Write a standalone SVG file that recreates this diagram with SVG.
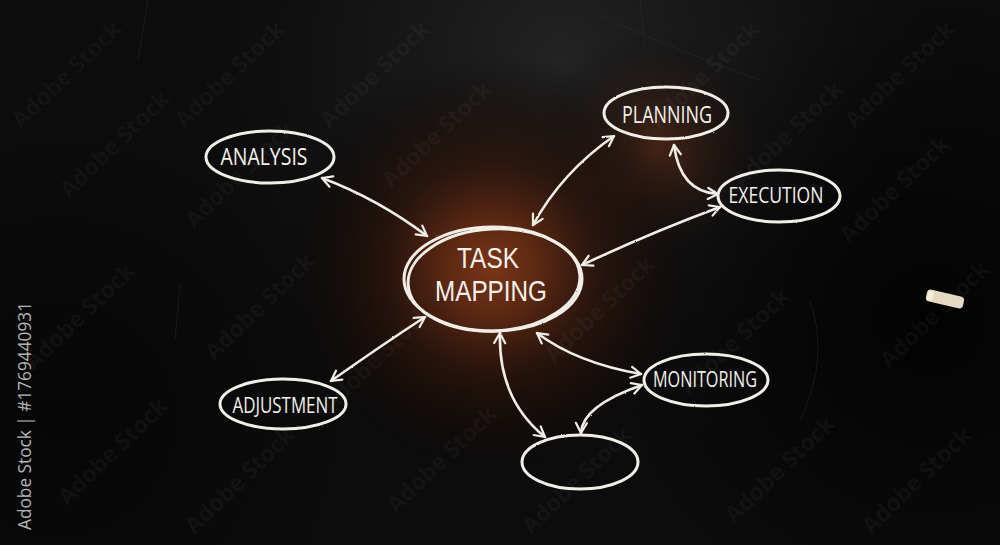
<svg xmlns="http://www.w3.org/2000/svg" width="1000" height="545" viewBox="0 0 1000 545">
  <defs>
    <radialGradient id="haze" cx="560" cy="60" r="420" gradientUnits="userSpaceOnUse">
      <stop offset="0" stop-color="#232323" stop-opacity="1"/>
      <stop offset="0.5" stop-color="#171717" stop-opacity="0.7"/>
      <stop offset="1" stop-color="#0b0b0b" stop-opacity="0"/>
    </radialGradient>
    <radialGradient id="glow" cx="492" cy="268" r="215" gradientUnits="userSpaceOnUse">
      <stop offset="0" stop-color="#7a3518"/>
      <stop offset="0.22" stop-color="#5e2913" stop-opacity="0.97"/>
      <stop offset="0.5" stop-color="#2e150b" stop-opacity="0.75"/>
      <stop offset="0.8" stop-color="#150b07" stop-opacity="0.35"/>
      <stop offset="1" stop-color="#0a0a0a" stop-opacity="0"/>
    </radialGradient>
    <radialGradient id="glow2" cx="655" cy="150" r="120" gradientUnits="userSpaceOnUse">
      <stop offset="0" stop-color="#5a2a14" stop-opacity="0.75"/>
      <stop offset="0.6" stop-color="#2c1710" stop-opacity="0.35"/>
      <stop offset="1" stop-color="#0a0a0a" stop-opacity="0"/>
    </radialGradient>
    <radialGradient id="dark" cx="930" cy="320" r="330" gradientUnits="userSpaceOnUse">
      <stop offset="0" stop-color="#000" stop-opacity="0.75"/>
      <stop offset="1" stop-color="#000" stop-opacity="0"/>
    </radialGradient>
    <radialGradient id="dark2" cx="60" cy="420" r="300" gradientUnits="userSpaceOnUse">
      <stop offset="0" stop-color="#000" stop-opacity="0.5"/>
      <stop offset="1" stop-color="#000" stop-opacity="0"/>
    </radialGradient>
    <marker id="arr" viewBox="0 0 14 14" refX="12" refY="7" markerWidth="14" markerHeight="14" markerUnits="userSpaceOnUse" orient="auto-start-reverse">
      <path d="M2,1.5 L12,7 L2,12.5" fill="none" stroke="#f1eee7" stroke-width="2.2" stroke-linecap="round" stroke-linejoin="round"/>
    </marker>
    <filter id="chalk" x="-5%" y="-5%" width="110%" height="110%">
      <feTurbulence type="fractalNoise" baseFrequency="0.9" numOctaves="2" seed="3" result="n"/>
      <feDisplacementMap in="SourceGraphic" in2="n" scale="1.6"/>
    </filter>
  </defs>
  <style>
    .oval { fill: none; stroke: #f1eee7; stroke-width: 3; }
    .lbl { font-family: "Open Sans", "Liberation Sans", sans-serif; fill: #f4f1ea; text-anchor: middle; }
    .big { font-family: "Liberation Sans", "Open Sans", sans-serif; fill: #f4f1ea; text-anchor: middle; font-size: 29px; }
    .wire { fill: none; stroke: #f1eee7; stroke-width: 2.6; stroke-linecap: round; marker-start: url(#arr); marker-end: url(#arr); }
    .wm { font-family: "Open Sans", "Liberation Sans", sans-serif; font-weight: 700; font-size: 23px; fill: #9a9a9a; fill-opacity: 0.07; text-anchor: middle; }
    .id { font-family: "Open Sans", "Liberation Sans", sans-serif; font-size: 18px; fill: #b4b4b4; }
  </style>

  <!-- board -->
  <rect x="0" y="0" width="1000" height="545" fill="#0c0c0c"/>
  <rect x="0" y="0" width="1000" height="545" fill="url(#haze)"/>
  <rect x="0" y="0" width="1000" height="545" fill="url(#dark)"/>
  <rect x="0" y="0" width="1000" height="545" fill="url(#dark2)"/>
  <rect x="0" y="0" width="1000" height="545" fill="url(#glow2)"/>
  <rect x="0" y="0" width="1000" height="545" fill="url(#glow)"/>

  <!-- faint scratches -->
  <g fill="none" stroke="#333" stroke-width="0.8" opacity="0.5">
    <path d="M148,0 L138,60"/>
    <path d="M600,15 Q650,40 760,80"/>
    <path d="M640,0 L645,45"/>
    <path d="M180,285 L175,340"/>
    <path d="M810,300 Q830,360 800,420"/>
  </g>

  <!-- watermarks -->
  <g class="wms">
    <text class="wm" transform="translate(72,80) rotate(-44)">Adobe Stock</text>
    <text class="wm" transform="translate(120,150) rotate(-44)">Adobe Stock</text>
    <text class="wm" transform="translate(235,80) rotate(-44)">Adobe Stock</text>
    <text class="wm" transform="translate(380,80) rotate(-44)">Adobe Stock</text>
    <text class="wm" transform="translate(245,180) rotate(-44)">Adobe Stock</text>
    <text class="wm" transform="translate(442,140) rotate(-44)">Adobe Stock</text>
    <text class="wm" transform="translate(710,80) rotate(-44)">Adobe Stock</text>
    <text class="wm" transform="translate(905,80) rotate(-44)">Adobe Stock</text>
    <text class="wm" transform="translate(793,140) rotate(-44)">Adobe Stock</text>
    <text class="wm" transform="translate(900,195) rotate(-44)">Adobe Stock</text>
    <text class="wm" transform="translate(85,322) rotate(-44)">Adobe Stock</text>
    <text class="wm" transform="translate(265,312) rotate(-44)">Adobe Stock</text>
    <text class="wm" transform="translate(382,364) rotate(-44)">Adobe Stock</text>
    <text class="wm" transform="translate(118,457) rotate(-44)">Adobe Stock</text>
    <text class="wm" transform="translate(245,486) rotate(-44)">Adobe Stock</text>
    <text class="wm" transform="translate(447,465) rotate(-44)">Adobe Stock</text>
    <text class="wm" transform="translate(605,315) rotate(-44)">Adobe Stock</text>
    <text class="wm" transform="translate(740,347) rotate(-44)">Adobe Stock</text>
    <text class="wm" transform="translate(582,486) rotate(-44)">Adobe Stock</text>
    <text class="wm" transform="translate(785,475) rotate(-44)">Adobe Stock</text>
    <text class="wm" transform="translate(940,320) rotate(-44)">Adobe Stock</text>
    <text class="wm" transform="translate(922,486) rotate(-44)">Adobe Stock</text>
  </g>

  <!-- connectors -->
  <g id="connectors" filter="url(#chalk)">
    <path class="wire" d="M427,236 Q378,199 322,178"/>
    <path class="wire" d="M533,225 Q562,172 614,136"/>
    <path class="wire" d="M674,145 Q680,192 718,194"/>
    <path class="wire" d="M720,207 Q650,233 582,265"/>
    <path class="wire" d="M331,381 Q379,347 425,317"/>
    <path class="wire" d="M537,333 Q577,363 641,374"/>
    <path class="wire" d="M500,333 Q498,399 545,437"/>
    <path class="wire" d="M642,385 Q582,406 581,433"/>
  </g>

  <!-- nodes -->
  <g id="node-task-mapping">
    <g filter="url(#chalk)">
      <ellipse class="oval" cx="493" cy="279" rx="89" ry="52" stroke-width="3.6"/>
      <ellipse class="oval" cx="494" cy="280" rx="86" ry="51" stroke-width="1.6" transform="rotate(-3 494 280)"/>
    </g>
    <text class="big" x="488" y="268" textLength="62" lengthAdjust="spacingAndGlyphs">TASK</text>
    <text class="big" x="491" y="301" textLength="112" lengthAdjust="spacingAndGlyphs">MAPPING</text>
  </g>
  <g id="node-analysis">
    <ellipse class="oval" cx="270" cy="157" rx="64" ry="26" filter="url(#chalk)"/>
    <text class="lbl" x="264" y="165" font-size="23" textLength="87" lengthAdjust="spacingAndGlyphs">ANALYSIS</text>
  </g>
  <g id="node-planning">
    <ellipse class="oval" cx="666" cy="113" rx="62" ry="26" filter="url(#chalk)"/>
    <text class="lbl" x="667" y="123" font-size="24" textLength="90" lengthAdjust="spacingAndGlyphs">PLANNING</text>
  </g>
  <g id="node-execution">
    <ellipse class="oval" cx="779" cy="196" rx="61" ry="26" filter="url(#chalk)"/>
    <text class="lbl" x="776" y="203" font-size="22" textLength="95" lengthAdjust="spacingAndGlyphs">EXECUTION</text>
  </g>
  <g id="node-monitoring">
    <ellipse class="oval" cx="706" cy="380" rx="62" ry="26" filter="url(#chalk)"/>
    <text class="lbl" x="705" y="387" font-size="21" textLength="104" lengthAdjust="spacingAndGlyphs">MONITORING</text>
  </g>
  <g id="node-adjustment">
    <ellipse class="oval" cx="283" cy="404" rx="63" ry="25" filter="url(#chalk)"/>
    <text class="lbl" x="285" y="413" font-size="22" textLength="105" lengthAdjust="spacingAndGlyphs">ADJUSTMENT</text>
  </g>
  <g id="node-empty">
    <ellipse class="oval" cx="580" cy="462" rx="58" ry="27" filter="url(#chalk)"/>
  </g>

  <!-- chalk piece -->
  <g id="chalk-piece">
    <rect x="926" y="293" width="38" height="12" rx="4" fill="#e4dac2" transform="rotate(13 945 299)"/>
    <rect x="927" y="294" width="6" height="10" rx="3" fill="#f3ecda" transform="rotate(13 945 299)"/>
  </g>

  <!-- stock id -->
  <text class="id" transform="translate(31,530) rotate(-90)" textLength="228" lengthAdjust="spacingAndGlyphs">Adobe Stock | #1769440931</text>
</svg>
